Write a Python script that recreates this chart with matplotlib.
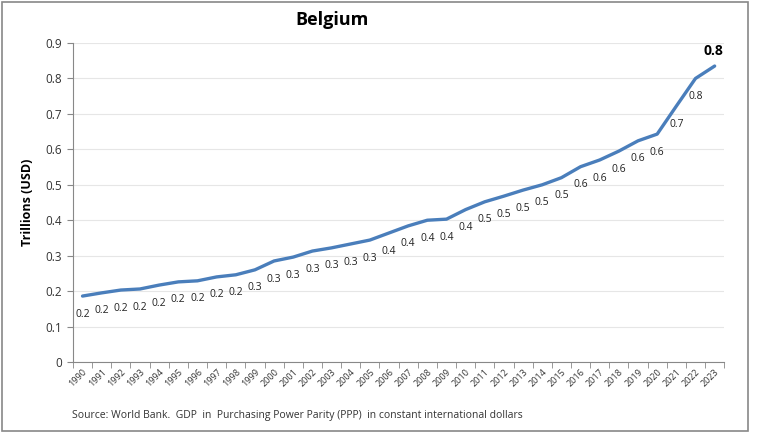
import numpy as np
import matplotlib.pyplot as plt
from matplotlib.patches import Rectangle

years = list(range(1990, 2024))
gdp = [0.186, 0.195, 0.203, 0.206, 0.217, 0.226, 0.229, 0.240, 0.246, 0.260,
       0.285, 0.296, 0.313, 0.322, 0.333, 0.344, 0.364, 0.384, 0.400, 0.403,
       0.430, 0.452, 0.468, 0.485, 0.500, 0.520, 0.551, 0.570, 0.595, 0.624,
       0.643, 0.722, 0.800, 0.835]
y_ticks = [0, 0.1, 0.2, 0.3, 0.4, 0.5, 0.6, 0.7, 0.8, 0.9]

plt.rcParams['font.family'] = ['Open Sans', 'DejaVu Sans']

fig = plt.figure(figsize=(7.68, 4.48), dpi=100)
ax = fig.add_axes([0.095, 0.192, 0.848, 0.712])

x = np.arange(len(years))
ax.plot(x, gdp, color='#4a7ebb', linewidth=2.4, solid_capstyle='round')

# value labels under each point, last one bold above
for i, v in enumerate(gdp[:-1]):
    ax.annotate(f'{v:.1f}', (x[i], v), xytext=(0, -13), textcoords='offset points',
                ha='center', va='center', fontsize=7.5, color='#222222')
ax.annotate(f'{gdp[-1]:.1f}', (x[-1], gdp[-1]), xytext=(-1, 11), textcoords='offset points',
            ha='center', va='center', fontsize=10, fontweight='bold', color='black')

ax.set_xlim(-0.5, len(years) - 0.5)
ax.set_ylim(0, 0.9)
ax.set_yticks(y_ticks)
ax.set_yticklabels(['0'] + [f'{t:.1f}' for t in y_ticks[1:]], fontsize=8.5, color='#333333')
ax.set_xticks(x)
ax.set_xticklabels([str(y) for y in years], rotation=45, ha='right', rotation_mode='anchor',
                   fontsize=6.5, color='#333333')
ax.set_xticks(np.arange(-0.5, len(years)), minor=True)
ax.tick_params(axis='x', which='major', length=0, pad=4)
ax.tick_params(axis='x', which='minor', length=4, color='#888888', direction='out')
ax.tick_params(axis='y', length=4, color='#888888', direction='out', pad=4)

ax.grid(axis='y', color='#e6e6e6', linewidth=0.8)
ax.set_axisbelow(True)
for s in ['top', 'right']:
    ax.spines[s].set_visible(False)
ax.spines['left'].set_color('#888888')
ax.spines['bottom'].set_color('#888888')

ax.set_ylabel('Trillions (USD)', fontsize=9, fontweight='bold', labelpad=8)
fig.text(0.433, 0.955, 'Belgium', ha='center', va='center', fontsize=13, fontweight='bold')
fig.text(0.094, 0.073, 'Source: World Bank.  GDP  in  Purchasing Power Parity (PPP)  in constant international dollars',
         ha='left', va='center', fontsize=7.5, color='#333333')

fig.patches.append(Rectangle((0.002, 0.038), 0.972, 0.958, transform=fig.transFigure,
                             fill=False, edgecolor='#888888', linewidth=1.2))

plt.savefig('out.png', dpi=100)
